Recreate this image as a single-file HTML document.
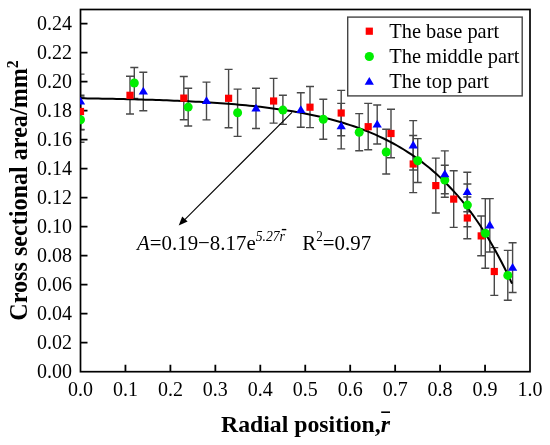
<!DOCTYPE html><html><head><meta charset="utf-8"><style>html,body{margin:0;padding:0;background:#fff;}svg{display:block;}</style></head><body>
<svg width="550" height="445" viewBox="0 0 550 445" font-family="'Liberation Serif', 'Times New Roman', serif">
<rect width="550" height="445" fill="#fff"/>
<defs><clipPath id="pc"><rect x="80.00" y="0" width="470.00" height="445"/></clipPath></defs>
<g clip-path="url(#pc)">
<path d="M80.50 95.30V129.50M76.50 95.30H84.50M76.50 129.50H84.50M130.00 76.20V114.00M126.00 76.20H134.00M126.00 114.00H134.00M183.80 76.50V119.70M179.80 76.50H187.80M179.80 119.70H187.80M228.60 69.40V127.80M224.60 69.40H232.60M224.60 127.80H232.60M273.60 78.40V123.10M269.60 78.40H277.60M269.60 123.10H277.60M310.00 86.50V127.60M306.00 86.50H314.00M306.00 127.60H314.00M341.20 90.40V135.80M337.20 90.40H345.20M337.20 135.80H345.20M368.20 103.40V149.80M364.20 103.40H372.20M364.20 149.80H372.20M391.00 109.20V157.70M387.00 109.20H395.00M387.00 157.70H395.00M413.20 135.50V192.60M409.20 135.50H417.20M409.20 192.60H417.20M435.80 158.10V213.00M431.80 158.10H439.80M431.80 213.00H439.80M453.70 170.70V227.40M449.70 170.70H457.70M449.70 227.40H457.70M467.30 197.00V238.70M463.30 197.00H471.30M463.30 238.70H471.30M481.20 216.00V255.70M477.20 216.00H485.20M477.20 255.70H485.20M494.30 247.60V295.40M490.30 247.60H498.30M490.30 295.40H498.30" stroke="#484848" stroke-width="1.40" fill="none"/>
<path d="M80.50 97.00V142.30M76.50 97.00H84.50M76.50 142.30H84.50M134.30 67.50V98.50M130.30 67.50H138.30M130.30 98.50H138.30M188.20 88.20V126.00M184.20 88.20H192.20M184.20 126.00H192.20M237.60 89.10V136.40M233.60 89.10H241.60M233.60 136.40H241.60M282.90 95.20V124.40M278.90 95.20H286.90M278.90 124.40H286.90M323.30 99.30V139.30M319.30 99.30H327.30M319.30 139.30H327.30M359.20 113.60V150.70M355.20 113.60H363.20M355.20 150.70H363.20M386.20 129.20V174.00M382.20 129.20H390.20M382.20 174.00H390.20M417.70 138.60V182.50M413.70 138.60H421.70M413.70 182.50H421.70M444.80 165.30V193.70M440.80 165.30H448.80M440.80 193.70H448.80M467.40 184.00V226.70M463.40 184.00H471.40M463.40 226.70H471.40M485.30 198.60V268.20M481.30 198.60H489.30M481.30 268.20H489.30M507.80 250.40V300.30M503.80 250.40H511.80M503.80 300.30H511.80" stroke="#484848" stroke-width="1.40" fill="none"/>
<path d="M80.50 74.10V129.70M76.50 74.10H84.50M76.50 129.70H84.50M143.30 72.20V110.70M139.30 72.20H147.30M139.30 110.70H147.30M206.50 82.10V119.90M202.50 82.10H210.50M202.50 119.90H210.50M256.00 88.20V128.50M252.00 88.20H260.00M252.00 128.50H260.00M300.80 92.70V127.20M296.80 92.70H304.80M296.80 127.20H304.80M341.20 103.40V148.90M337.20 103.40H345.20M337.20 148.90H345.20M377.20 105.00V144.00M373.20 105.00H381.20M373.20 144.00H381.20M413.20 120.60V170.00M409.20 120.60H417.20M409.20 170.00H417.20M444.80 150.90V197.30M440.80 150.90H448.80M440.80 197.30H448.80M467.30 172.20V211.80M463.30 172.20H471.30M463.30 211.80H471.30M489.80 198.60V252.00M485.80 198.60H493.80M485.80 252.00H493.80M512.60 242.70V292.50M508.60 242.70H516.60M508.60 292.50H516.60" stroke="#484848" stroke-width="1.40" fill="none"/>
</g>
<rect x="80.50" y="9.5" width="449.50" height="362.20" fill="none" stroke="#000" stroke-width="1.7"/>
<path d="M80.50 342.70H87.50M80.50 313.70H87.50M80.50 284.70H87.50M80.50 255.70H87.50M80.50 226.70H87.50M80.50 197.70H87.50M80.50 168.70H87.50M80.50 139.70H87.50M80.50 110.70H87.50M80.50 81.70H87.50M80.50 52.70H87.50M80.50 23.70H87.50M125.45 371.70V364.70M170.40 371.70V364.70M215.35 371.70V364.70M260.30 371.70V364.70M305.25 371.70V364.70M350.20 371.70V364.70M395.15 371.70V364.70M440.10 371.70V364.70M485.05 371.70V364.70" stroke="#000" stroke-width="1.8" fill="none"/>
<polyline points="80.50,98.28 84.10,98.34 87.69,98.39 91.29,98.44 94.88,98.50 98.48,98.56 102.08,98.63 105.67,98.69 109.27,98.76 112.86,98.83 116.46,98.91 120.06,98.98 123.65,99.06 127.25,99.15 130.84,99.24 134.44,99.33 138.04,99.43 141.63,99.53 145.23,99.63 148.82,99.74 152.42,99.85 156.02,99.97 159.61,100.10 163.21,100.22 166.80,100.36 170.40,100.50 174.00,100.65 177.59,100.80 181.19,100.96 184.78,101.12 188.38,101.30 191.98,101.48 195.57,101.67 199.17,101.86 202.76,102.07 206.36,102.28 209.96,102.50 213.55,102.74 217.15,102.98 220.74,103.23 224.34,103.50 227.94,103.77 231.53,104.06 235.13,104.36 238.72,104.67 242.32,105.00 245.92,105.34 249.51,105.69 253.11,106.06 256.70,106.45 260.30,106.85 263.90,107.27 267.49,107.71 271.09,108.17 274.68,108.64 278.28,109.14 281.88,109.66 285.47,110.20 289.07,110.76 292.66,111.35 296.26,111.97 299.86,112.61 303.45,113.27 307.05,113.97 310.64,114.70 314.24,115.45 317.84,116.24 321.43,117.07 325.03,117.93 328.62,118.83 332.22,119.76 335.82,120.74 339.41,121.75 343.01,122.82 346.60,123.92 350.20,125.08 353.80,126.28 357.39,127.54 360.99,128.85 364.58,130.22 368.18,131.64 371.78,133.13 375.37,134.68 378.97,136.30 382.56,137.99 386.16,139.75 389.76,141.59 393.35,143.50 396.95,145.50 400.54,147.59 404.14,149.76 407.74,152.03 411.33,154.39 414.93,156.86 418.52,159.43 422.12,162.12 425.72,164.92 429.31,167.84 432.91,170.88 436.50,174.06 440.10,177.37 443.70,180.83 447.29,184.44 450.89,188.20 454.48,192.12 458.08,196.21 461.68,200.48 465.27,204.93 468.87,209.57 472.46,214.42 476.06,219.47 479.66,224.74 483.25,230.24 486.85,235.97 490.44,241.95 494.04,248.19 497.64,254.69 501.23,261.48 504.83,268.56 508.42,275.94 512.02,283.64" fill="none" stroke="#000" stroke-width="2.0" stroke-linejoin="round"/>
<g clip-path="url(#pc)">
<rect x="76.90" y="107.90" width="7.20" height="7.20" fill="#ff0000"/>
<rect x="126.40" y="91.70" width="7.20" height="7.20" fill="#ff0000"/>
<rect x="180.20" y="94.50" width="7.20" height="7.20" fill="#ff0000"/>
<rect x="225.00" y="94.70" width="7.20" height="7.20" fill="#ff0000"/>
<rect x="270.00" y="97.40" width="7.20" height="7.20" fill="#ff0000"/>
<rect x="306.40" y="103.60" width="7.20" height="7.20" fill="#ff0000"/>
<rect x="337.60" y="109.40" width="7.20" height="7.20" fill="#ff0000"/>
<rect x="364.60" y="123.10" width="7.20" height="7.20" fill="#ff0000"/>
<rect x="387.40" y="129.90" width="7.20" height="7.20" fill="#ff0000"/>
<rect x="409.60" y="160.40" width="7.20" height="7.20" fill="#ff0000"/>
<rect x="432.20" y="182.00" width="7.20" height="7.20" fill="#ff0000"/>
<rect x="450.10" y="195.50" width="7.20" height="7.20" fill="#ff0000"/>
<rect x="463.70" y="214.40" width="7.20" height="7.20" fill="#ff0000"/>
<rect x="477.60" y="232.30" width="7.20" height="7.20" fill="#ff0000"/>
<rect x="490.70" y="267.90" width="7.20" height="7.20" fill="#ff0000"/>
<circle cx="80.50" cy="119.70" r="4.50" fill="#00ee00"/>
<circle cx="134.30" cy="83.00" r="4.50" fill="#00ee00"/>
<circle cx="188.20" cy="107.10" r="4.50" fill="#00ee00"/>
<circle cx="237.60" cy="112.70" r="4.50" fill="#00ee00"/>
<circle cx="282.90" cy="110.10" r="4.50" fill="#00ee00"/>
<circle cx="323.30" cy="119.20" r="4.50" fill="#00ee00"/>
<circle cx="359.20" cy="132.20" r="4.50" fill="#00ee00"/>
<circle cx="386.20" cy="152.00" r="4.50" fill="#00ee00"/>
<circle cx="417.70" cy="160.70" r="4.50" fill="#00ee00"/>
<circle cx="444.80" cy="180.00" r="4.50" fill="#00ee00"/>
<circle cx="467.40" cy="205.10" r="4.50" fill="#00ee00"/>
<circle cx="485.30" cy="233.30" r="4.50" fill="#00ee00"/>
<circle cx="507.80" cy="275.40" r="4.50" fill="#00ee00"/>
<path d="M80.50 96.80L85.15 104.60L75.85 104.60Z" fill="#0000ff"/>
<path d="M143.30 86.80L147.95 94.60L138.65 94.60Z" fill="#0000ff"/>
<path d="M206.50 96.30L211.15 104.10L201.85 104.10Z" fill="#0000ff"/>
<path d="M256.00 103.70L260.65 111.50L251.35 111.50Z" fill="#0000ff"/>
<path d="M300.80 105.30L305.45 113.10L296.15 113.10Z" fill="#0000ff"/>
<path d="M341.20 121.40L345.85 129.20L336.55 129.20Z" fill="#0000ff"/>
<path d="M377.20 119.80L381.85 127.60L372.55 127.60Z" fill="#0000ff"/>
<path d="M413.20 140.60L417.85 148.40L408.55 148.40Z" fill="#0000ff"/>
<path d="M444.80 169.40L449.45 177.20L440.15 177.20Z" fill="#0000ff"/>
<path d="M467.30 187.30L471.95 195.10L462.65 195.10Z" fill="#0000ff"/>
<path d="M489.80 220.60L494.45 228.40L485.15 228.40Z" fill="#0000ff"/>
<path d="M512.60 262.90L517.25 270.70L507.95 270.70Z" fill="#0000ff"/>
</g>
<path d="M292 112.4L183.5 220.8" stroke="#000" stroke-width="1.1" fill="none"/>
<path d="M178.7 225.5L182.2 216.6L187.6 221.6Z" fill="#000"/>
<text x="72" y="378.30" font-size="20" text-anchor="end">0.00</text>
<text x="72" y="349.30" font-size="20" text-anchor="end">0.02</text>
<text x="72" y="320.30" font-size="20" text-anchor="end">0.04</text>
<text x="72" y="291.30" font-size="20" text-anchor="end">0.06</text>
<text x="72" y="262.30" font-size="20" text-anchor="end">0.08</text>
<text x="72" y="233.30" font-size="20" text-anchor="end">0.10</text>
<text x="72" y="204.30" font-size="20" text-anchor="end">0.12</text>
<text x="72" y="175.30" font-size="20" text-anchor="end">0.14</text>
<text x="72" y="146.30" font-size="20" text-anchor="end">0.16</text>
<text x="72" y="117.30" font-size="20" text-anchor="end">0.18</text>
<text x="72" y="88.30" font-size="20" text-anchor="end">0.20</text>
<text x="72" y="59.30" font-size="20" text-anchor="end">0.22</text>
<text x="72" y="30.30" font-size="20" text-anchor="end">0.24</text>
<text x="80.50" y="395.5" font-size="20" text-anchor="middle">0.0</text>
<text x="125.45" y="395.5" font-size="20" text-anchor="middle">0.1</text>
<text x="170.40" y="395.5" font-size="20" text-anchor="middle">0.2</text>
<text x="215.35" y="395.5" font-size="20" text-anchor="middle">0.3</text>
<text x="260.30" y="395.5" font-size="20" text-anchor="middle">0.4</text>
<text x="305.25" y="395.5" font-size="20" text-anchor="middle">0.5</text>
<text x="350.20" y="395.5" font-size="20" text-anchor="middle">0.6</text>
<text x="395.15" y="395.5" font-size="20" text-anchor="middle">0.7</text>
<text x="440.10" y="395.5" font-size="20" text-anchor="middle">0.8</text>
<text x="485.05" y="395.5" font-size="20" text-anchor="middle">0.9</text>
<text x="530.00" y="395.5" font-size="20" text-anchor="middle">1.0</text>
<text x="221" y="432" font-size="24" font-weight="bold" textLength="169" lengthAdjust="spacingAndGlyphs">Radial position,<tspan font-style="italic">r</tspan></text>
<path d="M381.2 412.2H390" stroke="#000" stroke-width="1.6"/>
<text transform="translate(27,320.7) rotate(-90)" font-size="24.15" font-weight="bold">Cross sectional area/mm<tspan font-size="16" dy="-9">2</tspan></text>
<rect x="347.7" y="17.1" width="174.5" height="78.8" fill="#fff" stroke="#444" stroke-width="1.4"/>
<rect x="365.7" y="27.6" width="7.2" height="7.2" fill="#ff0000"/>
<circle cx="369.3" cy="56.5" r="4.6" fill="#00ee00"/>
<path d="M369.3 77.1L373.9 84.7L364.7 84.7Z" fill="#0000ff"/>
<text x="389.3" y="37.6" font-size="20.4">The base part</text>
<text x="389.3" y="63.0" font-size="20.4">The middle part</text>
<text x="389.3" y="88.2" font-size="20.4">The top part</text>
<text transform="translate(137.00,250.30) scale(0.950,1)" font-size="22.00"><tspan font-style="italic">A</tspan>=0.19&#8722;8.17e<tspan font-size="14.41" dy="-9.3" font-style="italic">5.27r</tspan></text>
<path d="M281.8 229.6H286.3" stroke="#000" stroke-width="1.4"/>
<text transform="translate(302.30,250.30) scale(0.950,1)" font-size="22.00">R<tspan font-size="13.86" dy="-9.5">2</tspan><tspan dy="9.5">=0.97</tspan></text>
</svg></body></html>
